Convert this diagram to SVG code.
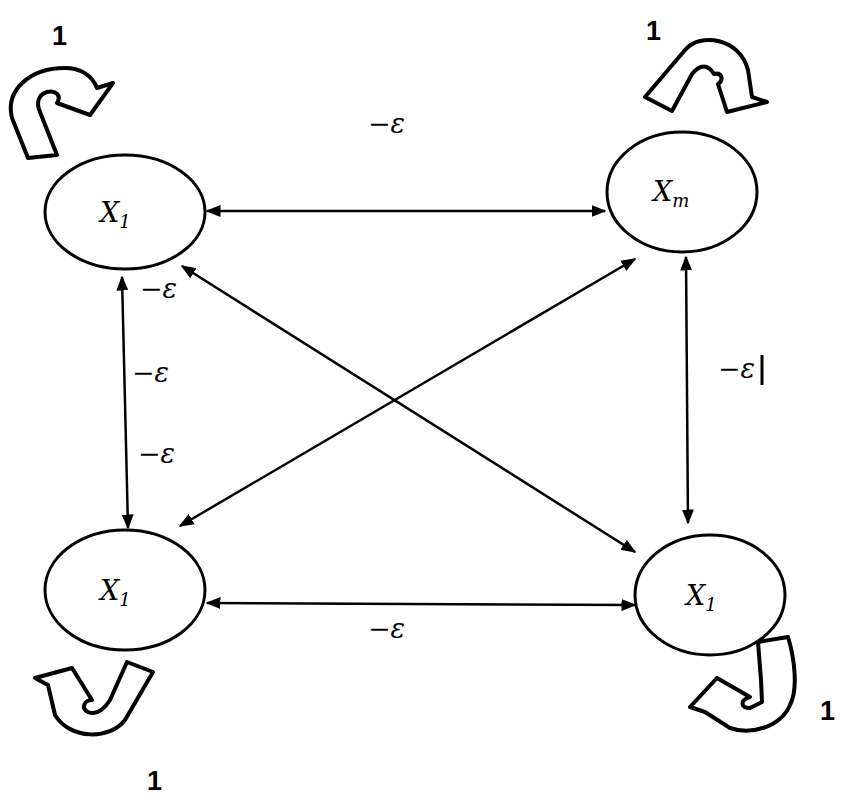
<svg xmlns="http://www.w3.org/2000/svg" width="850" height="812" viewBox="0 0 850 812">
<style>
.n{fill:#fff;stroke:#000;stroke-width:3}
.c{fill:none;stroke:#000;stroke-width:2.5;marker-start:url(#a);marker-end:url(#a)}
.l{font-family:"DejaVu Serif",serif;font-style:italic;font-size:27px}
.o{font-family:"Liberation Sans",sans-serif;font-size:27px;font-weight:bold}
.s{fill:#fff;stroke:#000;stroke-width:4;stroke-linejoin:round}
</style>
<defs><marker id="a" viewBox="0 0 10 10" refX="9" refY="5" markerWidth="6" markerHeight="6" orient="auto-start-reverse" markerUnits="strokeWidth"><path d="M0,1 L10,5 L0,9 Z"/></marker></defs>
<rect width="850" height="812" fill="#fff"/>
<g id="connectors">
<line class="c" x1="207" y1="211" x2="605" y2="211"/>
<line class="c" x1="122" y1="277" x2="128" y2="528"/>
<line class="c" x1="686" y1="257" x2="688" y2="523"/>
<line class="c" x1="207" y1="603" x2="635" y2="605"/>
<line class="c" x1="182" y1="266" x2="635" y2="552"/>
<line class="c" x1="635" y1="259" x2="180" y2="526"/>
</g>
<g id="n1"><ellipse class="n" cx="125" cy="212" rx="80" ry="57"/><text class="l" x="100" y="222">X<tspan font-size="18" dy="6">1</tspan></text></g>
<g id="nm"><ellipse class="n" cx="682" cy="192" rx="75" ry="60"/><text class="l" x="653" y="201">X<tspan font-size="18" dy="6">m</tspan></text></g>
<g id="n3"><ellipse class="n" cx="125" cy="590" rx="80" ry="60"/><text class="l" x="100" y="600">X<tspan font-size="18" dy="6">1</tspan></text></g>
<g id="n4"><ellipse class="n" cx="710" cy="595" rx="75" ry="60"/><text class="l" x="686" y="605">X<tspan font-size="18" dy="6">1</tspan></text></g>
<g id="loops">
<path class="s" d="M28,158 L12,118 C5,90 30,68 65,68 C80,68 92,75 97,88 L113,83 L90,115 L57,103 C62,95 55,90 47,92 C38,95 36,103 40,112 L57,155 Z"/>
<path class="s" d="M645,97 L685,50 C700,32 740,38 748,70 L752,97 L767,102 L727,112 L718,84 C724,80 722,72 714,74 C708,64 700,64 692,74 L672,111 Z"/>
<path class="s" d="M35,678 L72,668 L92,700 C85,700 80,708 88,712 C98,716 105,708 110,700 L127,662 L153,672 L125,720 C110,740 70,740 55,715 L48,685 Z"/>
<path class="s" d="M758,642 L788,637 C795,660 798,690 790,705 C780,728 750,735 730,728 L705,712 L690,707 L717,678 L750,697 C740,700 740,708 750,708 L762,702 L761,680 Z"/>
</g>
<g id="labels">
<text class="l" x="368" y="133">−ε</text>
<text class="l" x="140" y="298">−ε</text>
<text class="l" x="132" y="382">−ε</text>
<text class="l" x="138" y="463">−ε</text>
<text class="l" x="718" y="378">−ε</text>
<line x1="762" y1="355" x2="762" y2="385" stroke="#000" stroke-width="3"/>
<text class="l" x="368" y="638">−ε</text>
<text class="o" x="52" y="45">1</text>
<text class="o" x="646" y="40">1</text>
<text class="o" x="820" y="720">1</text>
<text class="o" x="147" y="790">1</text>
</g>
</svg>
